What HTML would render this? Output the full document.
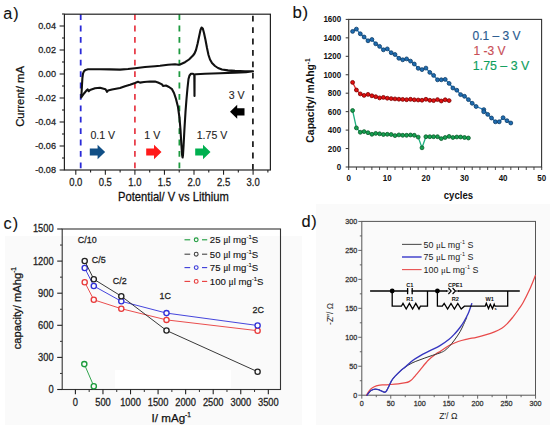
<!DOCTYPE html>
<html><head><meta charset="utf-8"><title>Figure</title>
<style>
html,body{margin:0;padding:0;background:#fff;}
body{width:550px;height:425px;overflow:hidden;}
svg{display:block;font-family:'Liberation Sans',sans-serif;}
svg text{font-family:'Liberation Sans',sans-serif;}
</style></head>
<body>
<svg width="550" height="425" viewBox="0 0 550 425">
<rect x="0" y="0" width="550" height="425" fill="#ffffff"/>
<rect x="5" y="236" width="297" height="189" fill="#fafafa"/>
<rect x="115" y="370" width="116" height="18" fill="#ffffff"/>
<rect x="316" y="204" width="234" height="221" fill="#fafafa"/>
<text transform="translate(3.3,19.0) scale(1,1.02)" font-size="16.2" text-anchor="start" fill="#111" stroke="#111" stroke-width="0.1" font-weight="normal" letter-spacing="1">a)</text>
<line x1="80.7" y1="14.2" x2="80.7" y2="170" stroke="#2a2ad8" stroke-width="1.8" stroke-dasharray="5.8 5.6" stroke-dashoffset="0"/>
<line x1="134.9" y1="14.2" x2="134.9" y2="170" stroke="#e8404c" stroke-width="1.8" stroke-dasharray="5.8 5.6" stroke-dashoffset="0"/>
<line x1="179.4" y1="14.2" x2="179.4" y2="170" stroke="#1e9a40" stroke-width="1.8" stroke-dasharray="5.8 5.6" stroke-dashoffset="0"/>
<line x1="252.9" y1="14.2" x2="252.9" y2="170" stroke="#222" stroke-width="1.8" stroke-dasharray="5.8 5.6" stroke-dashoffset="-70.0"/>
<rect x="64.4" y="14.2" width="205.99999999999997" height="155.8" fill="none" stroke="#222" stroke-width="1.2"/>
<line x1="59.60" y1="26.00" x2="64.40" y2="26.00" stroke="#222" stroke-width="1.1" />
<text transform="translate(56.0,29.3) scale(1,1.08)" font-size="9.1" text-anchor="end" fill="#222" stroke="#222" stroke-width="0.25" font-weight="normal" >0.04</text>
<line x1="59.60" y1="50.00" x2="64.40" y2="50.00" stroke="#222" stroke-width="1.1" />
<text transform="translate(56.0,53.3) scale(1,1.08)" font-size="9.1" text-anchor="end" fill="#222" stroke="#222" stroke-width="0.25" font-weight="normal" >0.02</text>
<line x1="59.60" y1="74.00" x2="64.40" y2="74.00" stroke="#222" stroke-width="1.1" />
<text transform="translate(56.0,77.3) scale(1,1.08)" font-size="9.1" text-anchor="end" fill="#222" stroke="#222" stroke-width="0.25" font-weight="normal" >0.00</text>
<line x1="59.60" y1="98.00" x2="64.40" y2="98.00" stroke="#222" stroke-width="1.1" />
<text transform="translate(56.0,101.3) scale(1,1.08)" font-size="9.1" text-anchor="end" fill="#222" stroke="#222" stroke-width="0.25" font-weight="normal" >-0.02</text>
<line x1="59.60" y1="122.00" x2="64.40" y2="122.00" stroke="#222" stroke-width="1.1" />
<text transform="translate(56.0,125.3) scale(1,1.08)" font-size="9.1" text-anchor="end" fill="#222" stroke="#222" stroke-width="0.25" font-weight="normal" >-0.04</text>
<line x1="59.60" y1="146.00" x2="64.40" y2="146.00" stroke="#222" stroke-width="1.1" />
<text transform="translate(56.0,149.3) scale(1,1.08)" font-size="9.1" text-anchor="end" fill="#222" stroke="#222" stroke-width="0.25" font-weight="normal" >-0.06</text>
<line x1="59.60" y1="170.00" x2="64.40" y2="170.00" stroke="#222" stroke-width="1.1" />
<text transform="translate(56.0,173.3) scale(1,1.08)" font-size="9.1" text-anchor="end" fill="#222" stroke="#222" stroke-width="0.25" font-weight="normal" >-0.08</text>
<line x1="62.00" y1="14.00" x2="64.40" y2="14.00" stroke="#222" stroke-width="1.1" />
<line x1="62.00" y1="38.00" x2="64.40" y2="38.00" stroke="#222" stroke-width="1.1" />
<line x1="62.00" y1="62.00" x2="64.40" y2="62.00" stroke="#222" stroke-width="1.1" />
<line x1="62.00" y1="86.00" x2="64.40" y2="86.00" stroke="#222" stroke-width="1.1" />
<line x1="62.00" y1="110.00" x2="64.40" y2="110.00" stroke="#222" stroke-width="1.1" />
<line x1="62.00" y1="134.00" x2="64.40" y2="134.00" stroke="#222" stroke-width="1.1" />
<line x1="62.00" y1="158.00" x2="64.40" y2="158.00" stroke="#222" stroke-width="1.1" />
<line x1="75.80" y1="170.00" x2="75.80" y2="174.70" stroke="#222" stroke-width="1.1" />
<text transform="translate(75.8,185.9) scale(1,1.08)" font-size="9.5" text-anchor="middle" fill="#222" stroke="#222" stroke-width="0.25" font-weight="normal" >0.0</text>
<line x1="105.35" y1="170.00" x2="105.35" y2="174.70" stroke="#222" stroke-width="1.1" />
<text transform="translate(105.3,185.9) scale(1,1.08)" font-size="9.5" text-anchor="middle" fill="#222" stroke="#222" stroke-width="0.25" font-weight="normal" >0.5</text>
<line x1="134.90" y1="170.00" x2="134.90" y2="174.70" stroke="#222" stroke-width="1.1" />
<text transform="translate(134.9,185.9) scale(1,1.08)" font-size="9.5" text-anchor="middle" fill="#222" stroke="#222" stroke-width="0.25" font-weight="normal" >1.0</text>
<line x1="164.45" y1="170.00" x2="164.45" y2="174.70" stroke="#222" stroke-width="1.1" />
<text transform="translate(164.4,185.9) scale(1,1.08)" font-size="9.5" text-anchor="middle" fill="#222" stroke="#222" stroke-width="0.25" font-weight="normal" >1.5</text>
<line x1="194.00" y1="170.00" x2="194.00" y2="174.70" stroke="#222" stroke-width="1.1" />
<text transform="translate(194.0,185.9) scale(1,1.08)" font-size="9.5" text-anchor="middle" fill="#222" stroke="#222" stroke-width="0.25" font-weight="normal" >2.0</text>
<line x1="223.55" y1="170.00" x2="223.55" y2="174.70" stroke="#222" stroke-width="1.1" />
<text transform="translate(223.6,185.9) scale(1,1.08)" font-size="9.5" text-anchor="middle" fill="#222" stroke="#222" stroke-width="0.25" font-weight="normal" >2.5</text>
<line x1="253.10" y1="170.00" x2="253.10" y2="174.70" stroke="#222" stroke-width="1.1" />
<text transform="translate(253.1,185.9) scale(1,1.08)" font-size="9.5" text-anchor="middle" fill="#222" stroke="#222" stroke-width="0.25" font-weight="normal" >3.0</text>
<line x1="90.58" y1="170.00" x2="90.58" y2="172.60" stroke="#222" stroke-width="1.1" />
<line x1="120.12" y1="170.00" x2="120.12" y2="172.60" stroke="#222" stroke-width="1.1" />
<line x1="149.68" y1="170.00" x2="149.68" y2="172.60" stroke="#222" stroke-width="1.1" />
<line x1="179.22" y1="170.00" x2="179.22" y2="172.60" stroke="#222" stroke-width="1.1" />
<line x1="208.77" y1="170.00" x2="208.77" y2="172.60" stroke="#222" stroke-width="1.1" />
<line x1="238.32" y1="170.00" x2="238.32" y2="172.60" stroke="#222" stroke-width="1.1" />
<line x1="267.88" y1="170.00" x2="267.88" y2="172.60" stroke="#222" stroke-width="1.1" />
<text transform="translate(173.4,200.8) scale(1,1.08)" font-size="11.2" text-anchor="middle" fill="#111" stroke="#111" stroke-width="0.25" font-weight="normal" >Potential/ V vs Lithium</text>
<text transform="translate(23.8,96.4) rotate(-90)" font-size="11.3" text-anchor="middle" fill="#111" stroke="#111" stroke-width="0.25">Current/ mA</text>
<polyline points="81.2,97.5 81.6,92.0 82.0,85.0 82.4,78.0 83.0,73.6 84.0,71.2 85.5,69.9 88.0,69.3 95.0,69.2 100.0,69.3 110.0,69.4 120.0,69.6 128.0,69.0 135.0,68.2 145.0,67.0 155.0,66.2 160.0,65.8 168.0,64.8 175.0,64.2 178.5,64.8 180.0,64.5 185.0,62.2 189.0,59.5 191.0,57.5 193.0,55.5 194.5,53.5 196.0,50.0 197.5,44.0 199.0,37.0 200.5,30.0 201.6,27.5 202.8,28.5 204.0,33.0 205.5,40.0 207.0,48.0 208.5,55.0 210.0,59.5 212.0,63.0 215.0,66.0 218.0,68.0 222.0,69.5 228.0,70.4 235.0,70.9 245.0,71.2 253.0,71.3 246.0,72.2 235.0,72.6 220.0,73.3 205.0,73.8 196.0,74.3 194.6,74.5 194.5,96.0 194.3,75.0 193.0,73.8 191.0,73.8 189.5,75.5 188.5,79.0 187.5,88.0 186.5,99.0 185.5,112.0 184.5,128.0 183.6,145.0 183.0,155.0 182.6,157.5 182.1,155.0 181.4,145.0 180.5,130.0 179.5,118.0 178.0,107.0 176.0,99.0 174.0,93.0 172.0,89.2 169.0,87.0 166.0,85.5 163.0,86.0 162.0,84.4 158.0,82.5 155.0,81.6 150.0,81.5 144.0,82.0 140.0,82.6 138.0,81.8 135.0,83.0 130.0,84.7 125.0,86.2 120.0,88.0 112.0,89.5 108.0,90.5 107.0,91.8 105.5,89.3 100.0,87.8 95.0,88.3 90.0,89.9 88.7,91.2 87.6,89.4 86.4,90.6 84.0,93.5 81.2,97.5" fill="none" stroke="#111" stroke-width="2.1" stroke-linejoin="round" stroke-linecap="round" />
<text transform="translate(90.4,138.5) scale(1,1.08)" font-size="10.6" text-anchor="start" fill="#222" stroke="#222" stroke-width="0.1" font-weight="normal" >0.1 V</text>
<text transform="translate(144.3,138.5) scale(1,1.08)" font-size="10.6" text-anchor="start" fill="#222" stroke="#222" stroke-width="0.1" font-weight="normal" >1 V</text>
<text transform="translate(196.7,138.5) scale(1,1.08)" font-size="10.6" text-anchor="start" fill="#222" stroke="#222" stroke-width="0.1" font-weight="normal" >1.75 V</text>
<text transform="translate(228.7,99.1) scale(1,1.08)" font-size="10.6" text-anchor="start" fill="#222" stroke="#222" stroke-width="0.1" font-weight="normal" >3 V</text>
<polygon points="89.8,148.4 97.6,148.4 97.6,144.8 105.1,152.0 97.6,159.2 97.6,155.6 89.8,155.6" fill="#114f86"/>
<polygon points="146.2,148.4 154.0,148.4 154.0,144.8 161.5,152.0 154.0,159.2 154.0,155.6 146.2,155.6" fill="#ff1a1a"/>
<polygon points="195.2,148.4 203.0,148.4 203.0,144.8 210.5,152.0 203.0,159.2 203.0,155.6 195.2,155.6" fill="#00b050"/>
<polygon points="230.0,111.8 237.2,104.8 237.2,108.2 244.5,108.2 244.5,115.4 237.2,115.4 237.2,118.8" fill="#000"/>
<text transform="translate(292.5,18.4) scale(1,1.02)" font-size="16.8" text-anchor="start" fill="#111" stroke="#111" stroke-width="0.1" font-weight="normal" letter-spacing="0.6">b)</text>
<rect x="348.7" y="19.4" width="192.9" height="147.6" fill="none" stroke="#333" stroke-width="1.1"/>
<line x1="345.70" y1="167.00" x2="348.70" y2="167.00" stroke="#333" stroke-width="1" />
<text transform="translate(341.2,169.9) scale(1,1.08)" font-size="8.0" text-anchor="end" fill="#111" stroke="#111" stroke-width="0.0" font-weight="bold" >0</text>
<line x1="345.70" y1="148.55" x2="348.70" y2="148.55" stroke="#333" stroke-width="1" />
<text transform="translate(341.2,151.5) scale(1,1.08)" font-size="8.0" text-anchor="end" fill="#111" stroke="#111" stroke-width="0.0" font-weight="bold" >200</text>
<line x1="345.70" y1="130.10" x2="348.70" y2="130.10" stroke="#333" stroke-width="1" />
<text transform="translate(341.2,133.0) scale(1,1.08)" font-size="8.0" text-anchor="end" fill="#111" stroke="#111" stroke-width="0.0" font-weight="bold" >400</text>
<line x1="345.70" y1="111.65" x2="348.70" y2="111.65" stroke="#333" stroke-width="1" />
<text transform="translate(341.2,114.6) scale(1,1.08)" font-size="8.0" text-anchor="end" fill="#111" stroke="#111" stroke-width="0.0" font-weight="bold" >600</text>
<line x1="345.70" y1="93.20" x2="348.70" y2="93.20" stroke="#333" stroke-width="1" />
<text transform="translate(341.2,96.1) scale(1,1.08)" font-size="8.0" text-anchor="end" fill="#111" stroke="#111" stroke-width="0.0" font-weight="bold" >800</text>
<line x1="345.70" y1="74.75" x2="348.70" y2="74.75" stroke="#333" stroke-width="1" />
<text transform="translate(341.2,77.7) scale(1,1.08)" font-size="8.0" text-anchor="end" fill="#111" stroke="#111" stroke-width="0.0" font-weight="bold" >1000</text>
<line x1="345.70" y1="56.30" x2="348.70" y2="56.30" stroke="#333" stroke-width="1" />
<text transform="translate(341.2,59.2) scale(1,1.08)" font-size="8.0" text-anchor="end" fill="#111" stroke="#111" stroke-width="0.0" font-weight="bold" >1200</text>
<line x1="345.70" y1="37.85" x2="348.70" y2="37.85" stroke="#333" stroke-width="1" />
<text transform="translate(341.2,40.7) scale(1,1.08)" font-size="8.0" text-anchor="end" fill="#111" stroke="#111" stroke-width="0.0" font-weight="bold" >1400</text>
<line x1="345.70" y1="19.40" x2="348.70" y2="19.40" stroke="#333" stroke-width="1" />
<text transform="translate(341.2,22.3) scale(1,1.08)" font-size="8.0" text-anchor="end" fill="#111" stroke="#111" stroke-width="0.0" font-weight="bold" >1600</text>
<line x1="348.70" y1="167.00" x2="348.70" y2="170.00" stroke="#333" stroke-width="0.9" />
<line x1="356.42" y1="167.00" x2="356.42" y2="170.00" stroke="#333" stroke-width="0.9" />
<line x1="364.14" y1="167.00" x2="364.14" y2="170.00" stroke="#333" stroke-width="0.9" />
<line x1="371.86" y1="167.00" x2="371.86" y2="170.00" stroke="#333" stroke-width="0.9" />
<line x1="379.58" y1="167.00" x2="379.58" y2="170.00" stroke="#333" stroke-width="0.9" />
<line x1="387.30" y1="167.00" x2="387.30" y2="170.00" stroke="#333" stroke-width="0.9" />
<line x1="395.02" y1="167.00" x2="395.02" y2="170.00" stroke="#333" stroke-width="0.9" />
<line x1="402.74" y1="167.00" x2="402.74" y2="170.00" stroke="#333" stroke-width="0.9" />
<line x1="410.46" y1="167.00" x2="410.46" y2="170.00" stroke="#333" stroke-width="0.9" />
<line x1="418.18" y1="167.00" x2="418.18" y2="170.00" stroke="#333" stroke-width="0.9" />
<line x1="425.90" y1="167.00" x2="425.90" y2="170.00" stroke="#333" stroke-width="0.9" />
<line x1="433.62" y1="167.00" x2="433.62" y2="170.00" stroke="#333" stroke-width="0.9" />
<line x1="441.34" y1="167.00" x2="441.34" y2="170.00" stroke="#333" stroke-width="0.9" />
<line x1="449.06" y1="167.00" x2="449.06" y2="170.00" stroke="#333" stroke-width="0.9" />
<line x1="456.78" y1="167.00" x2="456.78" y2="170.00" stroke="#333" stroke-width="0.9" />
<line x1="464.50" y1="167.00" x2="464.50" y2="170.00" stroke="#333" stroke-width="0.9" />
<line x1="472.22" y1="167.00" x2="472.22" y2="170.00" stroke="#333" stroke-width="0.9" />
<line x1="479.94" y1="167.00" x2="479.94" y2="170.00" stroke="#333" stroke-width="0.9" />
<line x1="487.66" y1="167.00" x2="487.66" y2="170.00" stroke="#333" stroke-width="0.9" />
<line x1="495.38" y1="167.00" x2="495.38" y2="170.00" stroke="#333" stroke-width="0.9" />
<line x1="503.10" y1="167.00" x2="503.10" y2="170.00" stroke="#333" stroke-width="0.9" />
<line x1="510.82" y1="167.00" x2="510.82" y2="170.00" stroke="#333" stroke-width="0.9" />
<line x1="518.54" y1="167.00" x2="518.54" y2="170.00" stroke="#333" stroke-width="0.9" />
<line x1="526.26" y1="167.00" x2="526.26" y2="170.00" stroke="#333" stroke-width="0.9" />
<line x1="533.98" y1="167.00" x2="533.98" y2="170.00" stroke="#333" stroke-width="0.9" />
<line x1="541.70" y1="167.00" x2="541.70" y2="170.00" stroke="#333" stroke-width="0.9" />
<text transform="translate(348.7,180.5) scale(1,1.08)" font-size="8.0" text-anchor="middle" fill="#111" stroke="#111" stroke-width="0.0" font-weight="bold" >0</text>
<text transform="translate(387.3,180.5) scale(1,1.08)" font-size="8.0" text-anchor="middle" fill="#111" stroke="#111" stroke-width="0.0" font-weight="bold" >10</text>
<text transform="translate(425.9,180.5) scale(1,1.08)" font-size="8.0" text-anchor="middle" fill="#111" stroke="#111" stroke-width="0.0" font-weight="bold" >20</text>
<text transform="translate(464.5,180.5) scale(1,1.08)" font-size="8.0" text-anchor="middle" fill="#111" stroke="#111" stroke-width="0.0" font-weight="bold" >30</text>
<text transform="translate(503.1,180.5) scale(1,1.08)" font-size="8.0" text-anchor="middle" fill="#111" stroke="#111" stroke-width="0.0" font-weight="bold" >40</text>
<text transform="translate(541.7,180.5) scale(1,1.08)" font-size="8.0" text-anchor="middle" fill="#111" stroke="#111" stroke-width="0.0" font-weight="bold" >50</text>
<text transform="translate(458.4,198.5) scale(1,1.08)" font-size="9.6" text-anchor="middle" fill="#111" stroke="#111" stroke-width="0.0" font-weight="bold" >cycles</text>
<text transform="translate(314.2,100.5) rotate(-90)" font-size="10.4" text-anchor="middle" fill="#111" font-weight="bold">Capacity/ mAhg<tspan dy="-4" font-size="6.5">-1</tspan></text>
<polyline points="352.6,31.4 356.4,29.1 360.3,33.8 364.1,37.0 368.0,40.8 371.9,39.5 375.7,43.8 379.6,46.4 383.4,49.8 387.3,48.9 391.2,52.7 395.0,54.5 398.9,58.3 402.7,59.8 406.6,58.9 410.5,61.1 414.3,64.0 418.2,68.3 422.0,69.6 425.9,68.1 429.8,72.4 433.6,75.4 437.5,79.8 441.3,79.8 445.2,79.4 449.1,83.4 452.9,88.0 456.8,90.2 460.6,94.6 464.5,96.3 468.4,99.6 472.2,103.3 476.1,106.5 483.8,109.6 487.7,114.4 491.5,118.0 495.4,121.8 499.2,121.8 503.1,117.7 507.0,120.7 510.8,123.0" fill="none" stroke="#2a7fc0" stroke-width="1.3" stroke-linejoin="round" stroke-linecap="round" />
<circle cx="352.6" cy="31.4" r="1.95" fill="#1f6cb0" stroke="#0d3b66" stroke-width="0.8"/>
<circle cx="356.4" cy="29.1" r="1.95" fill="#1f6cb0" stroke="#0d3b66" stroke-width="0.8"/>
<circle cx="360.3" cy="33.8" r="1.95" fill="#1f6cb0" stroke="#0d3b66" stroke-width="0.8"/>
<circle cx="364.1" cy="37.0" r="1.95" fill="#1f6cb0" stroke="#0d3b66" stroke-width="0.8"/>
<circle cx="368.0" cy="40.8" r="1.95" fill="#1f6cb0" stroke="#0d3b66" stroke-width="0.8"/>
<circle cx="371.9" cy="39.5" r="1.95" fill="#1f6cb0" stroke="#0d3b66" stroke-width="0.8"/>
<circle cx="375.7" cy="43.8" r="1.95" fill="#1f6cb0" stroke="#0d3b66" stroke-width="0.8"/>
<circle cx="379.6" cy="46.4" r="1.95" fill="#1f6cb0" stroke="#0d3b66" stroke-width="0.8"/>
<circle cx="383.4" cy="49.8" r="1.95" fill="#1f6cb0" stroke="#0d3b66" stroke-width="0.8"/>
<circle cx="387.3" cy="48.9" r="1.95" fill="#1f6cb0" stroke="#0d3b66" stroke-width="0.8"/>
<circle cx="391.2" cy="52.7" r="1.95" fill="#1f6cb0" stroke="#0d3b66" stroke-width="0.8"/>
<circle cx="395.0" cy="54.5" r="1.95" fill="#1f6cb0" stroke="#0d3b66" stroke-width="0.8"/>
<circle cx="398.9" cy="58.3" r="1.95" fill="#1f6cb0" stroke="#0d3b66" stroke-width="0.8"/>
<circle cx="402.7" cy="59.8" r="1.95" fill="#1f6cb0" stroke="#0d3b66" stroke-width="0.8"/>
<circle cx="406.6" cy="58.9" r="1.95" fill="#1f6cb0" stroke="#0d3b66" stroke-width="0.8"/>
<circle cx="410.5" cy="61.1" r="1.95" fill="#1f6cb0" stroke="#0d3b66" stroke-width="0.8"/>
<circle cx="414.3" cy="64.0" r="1.95" fill="#1f6cb0" stroke="#0d3b66" stroke-width="0.8"/>
<circle cx="418.2" cy="68.3" r="1.95" fill="#1f6cb0" stroke="#0d3b66" stroke-width="0.8"/>
<circle cx="422.0" cy="69.6" r="1.95" fill="#1f6cb0" stroke="#0d3b66" stroke-width="0.8"/>
<circle cx="425.9" cy="68.1" r="1.95" fill="#1f6cb0" stroke="#0d3b66" stroke-width="0.8"/>
<circle cx="429.8" cy="72.4" r="1.95" fill="#1f6cb0" stroke="#0d3b66" stroke-width="0.8"/>
<circle cx="433.6" cy="75.4" r="1.95" fill="#1f6cb0" stroke="#0d3b66" stroke-width="0.8"/>
<circle cx="437.5" cy="79.8" r="1.95" fill="#1f6cb0" stroke="#0d3b66" stroke-width="0.8"/>
<circle cx="441.3" cy="79.8" r="1.95" fill="#1f6cb0" stroke="#0d3b66" stroke-width="0.8"/>
<circle cx="445.2" cy="79.4" r="1.95" fill="#1f6cb0" stroke="#0d3b66" stroke-width="0.8"/>
<circle cx="449.1" cy="83.4" r="1.95" fill="#1f6cb0" stroke="#0d3b66" stroke-width="0.8"/>
<circle cx="452.9" cy="88.0" r="1.95" fill="#1f6cb0" stroke="#0d3b66" stroke-width="0.8"/>
<circle cx="456.8" cy="90.2" r="1.95" fill="#1f6cb0" stroke="#0d3b66" stroke-width="0.8"/>
<circle cx="460.6" cy="94.6" r="1.95" fill="#1f6cb0" stroke="#0d3b66" stroke-width="0.8"/>
<circle cx="464.5" cy="96.3" r="1.95" fill="#1f6cb0" stroke="#0d3b66" stroke-width="0.8"/>
<circle cx="468.4" cy="99.6" r="1.95" fill="#1f6cb0" stroke="#0d3b66" stroke-width="0.8"/>
<circle cx="472.2" cy="103.3" r="1.95" fill="#1f6cb0" stroke="#0d3b66" stroke-width="0.8"/>
<circle cx="476.1" cy="106.5" r="1.95" fill="#1f6cb0" stroke="#0d3b66" stroke-width="0.8"/>
<circle cx="483.8" cy="109.6" r="1.95" fill="#1f6cb0" stroke="#0d3b66" stroke-width="0.8"/>
<circle cx="487.7" cy="114.4" r="1.95" fill="#1f6cb0" stroke="#0d3b66" stroke-width="0.8"/>
<circle cx="491.5" cy="118.0" r="1.95" fill="#1f6cb0" stroke="#0d3b66" stroke-width="0.8"/>
<circle cx="495.4" cy="121.8" r="1.95" fill="#1f6cb0" stroke="#0d3b66" stroke-width="0.8"/>
<circle cx="499.2" cy="121.8" r="1.95" fill="#1f6cb0" stroke="#0d3b66" stroke-width="0.8"/>
<circle cx="503.1" cy="117.7" r="1.95" fill="#1f6cb0" stroke="#0d3b66" stroke-width="0.8"/>
<circle cx="507.0" cy="120.7" r="1.95" fill="#1f6cb0" stroke="#0d3b66" stroke-width="0.8"/>
<circle cx="510.8" cy="123.0" r="1.95" fill="#1f6cb0" stroke="#0d3b66" stroke-width="0.8"/>
<circle cx="483.8" cy="111.7" r="2.05" fill="#1f6cb0" stroke="#0d3b66" stroke-width="0.8"/>
<polyline points="352.6,82.4 356.4,90.0 360.3,93.9 364.1,95.4 368.0,94.4 371.9,95.8 375.7,96.7 379.6,97.9 383.4,97.4 387.3,98.2 391.2,98.6 395.0,98.9 398.9,99.2 402.7,99.4 406.6,99.7 410.5,99.3 414.3,99.8 418.2,100.0 422.0,100.2 425.9,99.3 429.8,100.3 433.6,100.6 437.5,99.6 441.3,101.0 445.2,99.8 449.1,100.6" fill="none" stroke="#e03030" stroke-width="1.3" stroke-linejoin="round" stroke-linecap="round" />
<circle cx="352.6" cy="82.4" r="1.95" fill="#e01010" stroke="#7a0000" stroke-width="0.8"/>
<circle cx="356.4" cy="90.0" r="1.95" fill="#e01010" stroke="#7a0000" stroke-width="0.8"/>
<circle cx="360.3" cy="93.9" r="1.95" fill="#e01010" stroke="#7a0000" stroke-width="0.8"/>
<circle cx="364.1" cy="95.4" r="1.95" fill="#e01010" stroke="#7a0000" stroke-width="0.8"/>
<circle cx="368.0" cy="94.4" r="1.95" fill="#e01010" stroke="#7a0000" stroke-width="0.8"/>
<circle cx="371.9" cy="95.8" r="1.95" fill="#e01010" stroke="#7a0000" stroke-width="0.8"/>
<circle cx="375.7" cy="96.7" r="1.95" fill="#e01010" stroke="#7a0000" stroke-width="0.8"/>
<circle cx="379.6" cy="97.9" r="1.95" fill="#e01010" stroke="#7a0000" stroke-width="0.8"/>
<circle cx="383.4" cy="97.4" r="1.95" fill="#e01010" stroke="#7a0000" stroke-width="0.8"/>
<circle cx="387.3" cy="98.2" r="1.95" fill="#e01010" stroke="#7a0000" stroke-width="0.8"/>
<circle cx="391.2" cy="98.6" r="1.95" fill="#e01010" stroke="#7a0000" stroke-width="0.8"/>
<circle cx="395.0" cy="98.9" r="1.95" fill="#e01010" stroke="#7a0000" stroke-width="0.8"/>
<circle cx="398.9" cy="99.2" r="1.95" fill="#e01010" stroke="#7a0000" stroke-width="0.8"/>
<circle cx="402.7" cy="99.4" r="1.95" fill="#e01010" stroke="#7a0000" stroke-width="0.8"/>
<circle cx="406.6" cy="99.7" r="1.95" fill="#e01010" stroke="#7a0000" stroke-width="0.8"/>
<circle cx="410.5" cy="99.3" r="1.95" fill="#e01010" stroke="#7a0000" stroke-width="0.8"/>
<circle cx="414.3" cy="99.8" r="1.95" fill="#e01010" stroke="#7a0000" stroke-width="0.8"/>
<circle cx="418.2" cy="100.0" r="1.95" fill="#e01010" stroke="#7a0000" stroke-width="0.8"/>
<circle cx="422.0" cy="100.2" r="1.95" fill="#e01010" stroke="#7a0000" stroke-width="0.8"/>
<circle cx="425.9" cy="99.3" r="1.95" fill="#e01010" stroke="#7a0000" stroke-width="0.8"/>
<circle cx="429.8" cy="100.3" r="1.95" fill="#e01010" stroke="#7a0000" stroke-width="0.8"/>
<circle cx="433.6" cy="100.6" r="1.95" fill="#e01010" stroke="#7a0000" stroke-width="0.8"/>
<circle cx="437.5" cy="99.6" r="1.95" fill="#e01010" stroke="#7a0000" stroke-width="0.8"/>
<circle cx="441.3" cy="101.0" r="1.95" fill="#e01010" stroke="#7a0000" stroke-width="0.8"/>
<circle cx="445.2" cy="99.8" r="1.95" fill="#e01010" stroke="#7a0000" stroke-width="0.8"/>
<circle cx="449.1" cy="100.6" r="1.95" fill="#e01010" stroke="#7a0000" stroke-width="0.8"/>
<polyline points="352.6,110.5 356.4,127.9 360.3,132.3 364.1,131.6 368.0,132.7 371.9,134.3 375.7,133.4 379.6,133.8 383.4,134.5 387.3,134.3 391.2,134.5 395.0,135.6 398.9,134.9 402.7,135.3 406.6,135.3 410.5,135.0 414.3,135.3 418.2,137.1 422.0,147.8 425.9,136.7 429.8,136.7 433.6,136.7 437.5,136.7 441.3,138.6 445.2,137.5 449.1,136.4 452.9,137.5 456.8,137.0 460.6,137.0 464.5,137.5 468.4,138.0" fill="none" stroke="#20b080" stroke-width="1.3" stroke-linejoin="round" stroke-linecap="round" />
<circle cx="352.6" cy="110.5" r="1.95" fill="#15a050" stroke="#0a5a2a" stroke-width="0.8"/>
<circle cx="356.4" cy="127.9" r="1.95" fill="#15a050" stroke="#0a5a2a" stroke-width="0.8"/>
<circle cx="360.3" cy="132.3" r="1.95" fill="#15a050" stroke="#0a5a2a" stroke-width="0.8"/>
<circle cx="364.1" cy="131.6" r="1.95" fill="#15a050" stroke="#0a5a2a" stroke-width="0.8"/>
<circle cx="368.0" cy="132.7" r="1.95" fill="#15a050" stroke="#0a5a2a" stroke-width="0.8"/>
<circle cx="371.9" cy="134.3" r="1.95" fill="#15a050" stroke="#0a5a2a" stroke-width="0.8"/>
<circle cx="375.7" cy="133.4" r="1.95" fill="#15a050" stroke="#0a5a2a" stroke-width="0.8"/>
<circle cx="379.6" cy="133.8" r="1.95" fill="#15a050" stroke="#0a5a2a" stroke-width="0.8"/>
<circle cx="383.4" cy="134.5" r="1.95" fill="#15a050" stroke="#0a5a2a" stroke-width="0.8"/>
<circle cx="387.3" cy="134.3" r="1.95" fill="#15a050" stroke="#0a5a2a" stroke-width="0.8"/>
<circle cx="391.2" cy="134.5" r="1.95" fill="#15a050" stroke="#0a5a2a" stroke-width="0.8"/>
<circle cx="395.0" cy="135.6" r="1.95" fill="#15a050" stroke="#0a5a2a" stroke-width="0.8"/>
<circle cx="398.9" cy="134.9" r="1.95" fill="#15a050" stroke="#0a5a2a" stroke-width="0.8"/>
<circle cx="402.7" cy="135.3" r="1.95" fill="#15a050" stroke="#0a5a2a" stroke-width="0.8"/>
<circle cx="406.6" cy="135.3" r="1.95" fill="#15a050" stroke="#0a5a2a" stroke-width="0.8"/>
<circle cx="410.5" cy="135.0" r="1.95" fill="#15a050" stroke="#0a5a2a" stroke-width="0.8"/>
<circle cx="414.3" cy="135.3" r="1.95" fill="#15a050" stroke="#0a5a2a" stroke-width="0.8"/>
<circle cx="418.2" cy="137.1" r="1.95" fill="#15a050" stroke="#0a5a2a" stroke-width="0.8"/>
<circle cx="422.0" cy="147.8" r="1.95" fill="#15a050" stroke="#0a5a2a" stroke-width="0.8"/>
<circle cx="425.9" cy="136.7" r="1.95" fill="#15a050" stroke="#0a5a2a" stroke-width="0.8"/>
<circle cx="429.8" cy="136.7" r="1.95" fill="#15a050" stroke="#0a5a2a" stroke-width="0.8"/>
<circle cx="433.6" cy="136.7" r="1.95" fill="#15a050" stroke="#0a5a2a" stroke-width="0.8"/>
<circle cx="437.5" cy="136.7" r="1.95" fill="#15a050" stroke="#0a5a2a" stroke-width="0.8"/>
<circle cx="441.3" cy="138.6" r="1.95" fill="#15a050" stroke="#0a5a2a" stroke-width="0.8"/>
<circle cx="445.2" cy="137.5" r="1.95" fill="#15a050" stroke="#0a5a2a" stroke-width="0.8"/>
<circle cx="449.1" cy="136.4" r="1.95" fill="#15a050" stroke="#0a5a2a" stroke-width="0.8"/>
<circle cx="452.9" cy="137.5" r="1.95" fill="#15a050" stroke="#0a5a2a" stroke-width="0.8"/>
<circle cx="456.8" cy="137.0" r="1.95" fill="#15a050" stroke="#0a5a2a" stroke-width="0.8"/>
<circle cx="460.6" cy="137.0" r="1.95" fill="#15a050" stroke="#0a5a2a" stroke-width="0.8"/>
<circle cx="464.5" cy="137.5" r="1.95" fill="#15a050" stroke="#0a5a2a" stroke-width="0.8"/>
<circle cx="468.4" cy="138.0" r="1.95" fill="#15a050" stroke="#0a5a2a" stroke-width="0.8"/>
<text transform="translate(472.6,39.8) scale(1,1.08)" font-size="12" text-anchor="start" fill="#2a5b90" stroke="#2a5b90" stroke-width="0.15" font-weight="normal" >0.1 – 3 V</text>
<text transform="translate(473.6,55.1) scale(1,1.08)" font-size="12" text-anchor="start" fill="#c84e56" stroke="#c84e56" stroke-width="0.15" font-weight="normal" >1 -3 V</text>
<text transform="translate(472.8,70.4) scale(1,1.08)" font-size="12.4" text-anchor="start" fill="#0e9e5c" stroke="#0e9e5c" stroke-width="0.15" font-weight="normal" >1.75 – 3 V</text>
<text transform="translate(3.6,229.2) scale(1,1.02)" font-size="16.2" text-anchor="start" fill="#111" stroke="#111" stroke-width="0.1" font-weight="normal" letter-spacing="1">c)</text>
<rect x="62.2" y="229.0" width="218.3" height="160.5" fill="none" stroke="#333" stroke-width="1.1"/>
<line x1="57.20" y1="389.50" x2="62.20" y2="389.50" stroke="#222" stroke-width="1.1" />
<text transform="translate(53.6,392.9) scale(1,1.08)" font-size="9.3" text-anchor="end" fill="#222" stroke="#222" stroke-width="0.25" font-weight="normal" >0</text>
<line x1="57.20" y1="357.40" x2="62.20" y2="357.40" stroke="#222" stroke-width="1.1" />
<text transform="translate(53.6,360.8) scale(1,1.08)" font-size="9.3" text-anchor="end" fill="#222" stroke="#222" stroke-width="0.25" font-weight="normal" >300</text>
<line x1="57.20" y1="325.30" x2="62.20" y2="325.30" stroke="#222" stroke-width="1.1" />
<text transform="translate(53.6,328.7) scale(1,1.08)" font-size="9.3" text-anchor="end" fill="#222" stroke="#222" stroke-width="0.25" font-weight="normal" >600</text>
<line x1="57.20" y1="293.20" x2="62.20" y2="293.20" stroke="#222" stroke-width="1.1" />
<text transform="translate(53.6,296.6) scale(1,1.08)" font-size="9.3" text-anchor="end" fill="#222" stroke="#222" stroke-width="0.25" font-weight="normal" >900</text>
<line x1="57.20" y1="261.10" x2="62.20" y2="261.10" stroke="#222" stroke-width="1.1" />
<text transform="translate(53.6,264.5) scale(1,1.08)" font-size="9.3" text-anchor="end" fill="#222" stroke="#222" stroke-width="0.25" font-weight="normal" >1200</text>
<line x1="57.20" y1="229.00" x2="62.20" y2="229.00" stroke="#222" stroke-width="1.1" />
<text transform="translate(53.6,232.4) scale(1,1.08)" font-size="9.3" text-anchor="end" fill="#222" stroke="#222" stroke-width="0.25" font-weight="normal" >1500</text>
<line x1="60.00" y1="373.45" x2="62.20" y2="373.45" stroke="#333" stroke-width="1" />
<line x1="60.00" y1="341.35" x2="62.20" y2="341.35" stroke="#333" stroke-width="1" />
<line x1="60.00" y1="309.25" x2="62.20" y2="309.25" stroke="#333" stroke-width="1" />
<line x1="60.00" y1="277.15" x2="62.20" y2="277.15" stroke="#333" stroke-width="1" />
<line x1="60.00" y1="245.05" x2="62.20" y2="245.05" stroke="#333" stroke-width="1" />
<line x1="75.40" y1="389.50" x2="75.40" y2="394.30" stroke="#222" stroke-width="1.1" />
<text transform="translate(75.4,405.6) scale(1,1.08)" font-size="9.3" text-anchor="middle" fill="#222" stroke="#222" stroke-width="0.25" font-weight="normal" >0</text>
<line x1="102.96" y1="389.50" x2="102.96" y2="394.30" stroke="#222" stroke-width="1.1" />
<text transform="translate(103.0,405.6) scale(1,1.08)" font-size="9.3" text-anchor="middle" fill="#222" stroke="#222" stroke-width="0.25" font-weight="normal" >500</text>
<line x1="130.52" y1="389.50" x2="130.52" y2="394.30" stroke="#222" stroke-width="1.1" />
<text transform="translate(130.5,405.6) scale(1,1.08)" font-size="9.3" text-anchor="middle" fill="#222" stroke="#222" stroke-width="0.25" font-weight="normal" >1000</text>
<line x1="158.08" y1="389.50" x2="158.08" y2="394.30" stroke="#222" stroke-width="1.1" />
<text transform="translate(158.1,405.6) scale(1,1.08)" font-size="9.3" text-anchor="middle" fill="#222" stroke="#222" stroke-width="0.25" font-weight="normal" >1500</text>
<line x1="185.64" y1="389.50" x2="185.64" y2="394.30" stroke="#222" stroke-width="1.1" />
<text transform="translate(185.6,405.6) scale(1,1.08)" font-size="9.3" text-anchor="middle" fill="#222" stroke="#222" stroke-width="0.25" font-weight="normal" >2000</text>
<line x1="213.20" y1="389.50" x2="213.20" y2="394.30" stroke="#222" stroke-width="1.1" />
<text transform="translate(213.2,405.6) scale(1,1.08)" font-size="9.3" text-anchor="middle" fill="#222" stroke="#222" stroke-width="0.25" font-weight="normal" >2500</text>
<line x1="240.76" y1="389.50" x2="240.76" y2="394.30" stroke="#222" stroke-width="1.1" />
<text transform="translate(240.8,405.6) scale(1,1.08)" font-size="9.3" text-anchor="middle" fill="#222" stroke="#222" stroke-width="0.25" font-weight="normal" >3000</text>
<line x1="268.32" y1="389.50" x2="268.32" y2="394.30" stroke="#222" stroke-width="1.1" />
<text transform="translate(268.3,405.6) scale(1,1.08)" font-size="9.3" text-anchor="middle" fill="#222" stroke="#222" stroke-width="0.25" font-weight="normal" >3500</text>
<line x1="89.18" y1="389.50" x2="89.18" y2="392.00" stroke="#333" stroke-width="1" />
<line x1="116.74" y1="389.50" x2="116.74" y2="392.00" stroke="#333" stroke-width="1" />
<line x1="144.30" y1="389.50" x2="144.30" y2="392.00" stroke="#333" stroke-width="1" />
<line x1="171.86" y1="389.50" x2="171.86" y2="392.00" stroke="#333" stroke-width="1" />
<line x1="199.42" y1="389.50" x2="199.42" y2="392.00" stroke="#333" stroke-width="1" />
<line x1="226.98" y1="389.50" x2="226.98" y2="392.00" stroke="#333" stroke-width="1" />
<line x1="254.54" y1="389.50" x2="254.54" y2="392.00" stroke="#333" stroke-width="1" />
<text x="151.6" y="421.9" font-size="11.6" fill="#111" stroke="#111" stroke-width="0.25">I/ mAg<tspan dy="-5" font-size="6.5">-1</tspan></text>
<text transform="translate(20.8,308.2) rotate(-90)" font-size="11.2" text-anchor="middle" fill="#111" stroke="#111" stroke-width="0.25">capacity/ mAhg<tspan dy="-5" font-size="6.5">-1</tspan></text>
<polyline points="84.7,282.2 93.8,299.8 121.3,308.7 166.5,319.9 257.6,330.7" fill="none" stroke="#e83a3a" stroke-width="0.9" stroke-linejoin="round" stroke-linecap="round" />
<circle cx="84.7" cy="282.2" r="2.6" fill="#fbfbfb" stroke="#e83a3a" stroke-width="1.35"/>
<circle cx="93.8" cy="299.8" r="2.6" fill="#fbfbfb" stroke="#e83a3a" stroke-width="1.35"/>
<circle cx="121.3" cy="308.7" r="2.6" fill="#fbfbfb" stroke="#e83a3a" stroke-width="1.35"/>
<circle cx="166.5" cy="319.9" r="2.6" fill="#fbfbfb" stroke="#e83a3a" stroke-width="1.35"/>
<circle cx="257.6" cy="330.7" r="2.6" fill="#fbfbfb" stroke="#e83a3a" stroke-width="1.35"/>
<polyline points="84.7,268.0 93.8,286.0 121.3,301.3 166.5,313.1 257.6,325.5" fill="none" stroke="#3030d8" stroke-width="0.9" stroke-linejoin="round" stroke-linecap="round" />
<circle cx="84.7" cy="268.0" r="2.6" fill="#fbfbfb" stroke="#3030d8" stroke-width="1.35"/>
<circle cx="93.8" cy="286.0" r="2.6" fill="#fbfbfb" stroke="#3030d8" stroke-width="1.35"/>
<circle cx="121.3" cy="301.3" r="2.6" fill="#fbfbfb" stroke="#3030d8" stroke-width="1.35"/>
<circle cx="166.5" cy="313.1" r="2.6" fill="#fbfbfb" stroke="#3030d8" stroke-width="1.35"/>
<circle cx="257.6" cy="325.5" r="2.6" fill="#fbfbfb" stroke="#3030d8" stroke-width="1.35"/>
<polyline points="84.7,261.0 93.8,279.2 121.3,296.2 166.5,330.5 257.6,371.7" fill="none" stroke="#222" stroke-width="0.9" stroke-linejoin="round" stroke-linecap="round" />
<circle cx="84.7" cy="261.0" r="2.6" fill="#fbfbfb" stroke="#222" stroke-width="1.35"/>
<circle cx="93.8" cy="279.2" r="2.6" fill="#fbfbfb" stroke="#222" stroke-width="1.35"/>
<circle cx="121.3" cy="296.2" r="2.6" fill="#fbfbfb" stroke="#222" stroke-width="1.35"/>
<circle cx="166.5" cy="330.5" r="2.6" fill="#fbfbfb" stroke="#222" stroke-width="1.35"/>
<circle cx="257.6" cy="371.7" r="2.6" fill="#fbfbfb" stroke="#222" stroke-width="1.35"/>
<polyline points="84.3,364.1 93.8,386.2" fill="none" stroke="#1a9a3a" stroke-width="0.9" stroke-linejoin="round" stroke-linecap="round" />
<circle cx="84.3" cy="364.1" r="2.6" fill="#fbfbfb" stroke="#1a9a3a" stroke-width="1.35"/>
<circle cx="93.8" cy="386.2" r="2.6" fill="#fbfbfb" stroke="#1a9a3a" stroke-width="1.35"/>
<text transform="translate(77.8,243.3) scale(1,1.08)" font-size="8.9" text-anchor="start" fill="#222" stroke="#222" stroke-width="0.25" font-weight="normal" >C/10</text>
<text transform="translate(91.8,263.3) scale(1,1.08)" font-size="8.9" text-anchor="start" fill="#222" stroke="#222" stroke-width="0.25" font-weight="normal" >C/5</text>
<text transform="translate(112.8,283.8) scale(1,1.08)" font-size="8.9" text-anchor="start" fill="#222" stroke="#222" stroke-width="0.25" font-weight="normal" >C/2</text>
<text transform="translate(159.6,298.6) scale(1,1.08)" font-size="8.9" text-anchor="start" fill="#222" stroke="#222" stroke-width="0.25" font-weight="normal" >1C</text>
<text transform="translate(252.6,312.6) scale(1,1.08)" font-size="8.9" text-anchor="start" fill="#222" stroke="#222" stroke-width="0.25" font-weight="normal" >2C</text>
<line x1="184.50" y1="239.80" x2="190.20" y2="239.80" stroke="#1a9a3a" stroke-width="1.1" />
<line x1="202.00" y1="239.80" x2="207.20" y2="239.80" stroke="#1a9a3a" stroke-width="1.1" />
<circle cx="196.2" cy="239.8" r="1.9" fill="none" stroke="#1a9a3a" stroke-width="1.1"/>
<text x="209.8" y="243.3" font-size="9.6" fill="#111" stroke="#111" stroke-width="0.12">25 <tspan font-family="Liberation Serif">μ</tspan>l mg<tspan dy="-4" font-size="6">-1</tspan><tspan dy="4">S</tspan></text>
<line x1="184.50" y1="254.20" x2="190.20" y2="254.20" stroke="#444" stroke-width="1.1" />
<line x1="202.00" y1="254.20" x2="207.20" y2="254.20" stroke="#444" stroke-width="1.1" />
<circle cx="196.2" cy="254.2" r="1.9" fill="none" stroke="#444" stroke-width="1.1"/>
<text x="209.8" y="257.7" font-size="9.6" fill="#111" stroke="#111" stroke-width="0.12">50 <tspan font-family="Liberation Serif">μ</tspan>l mg<tspan dy="-4" font-size="6">-1</tspan><tspan dy="4">S</tspan></text>
<line x1="184.50" y1="267.60" x2="190.20" y2="267.60" stroke="#3a3ad8" stroke-width="1.1" />
<line x1="202.00" y1="267.60" x2="207.20" y2="267.60" stroke="#3a3ad8" stroke-width="1.1" />
<circle cx="196.2" cy="267.6" r="1.9" fill="none" stroke="#3a3ad8" stroke-width="1.1"/>
<text x="209.8" y="271.1" font-size="9.6" fill="#111" stroke="#111" stroke-width="0.12">75 <tspan font-family="Liberation Serif">μ</tspan>l mg<tspan dy="-4" font-size="6">-1</tspan><tspan dy="4">S</tspan></text>
<line x1="184.50" y1="281.40" x2="190.20" y2="281.40" stroke="#e83a3a" stroke-width="1.1" />
<line x1="202.00" y1="281.40" x2="207.20" y2="281.40" stroke="#e83a3a" stroke-width="1.1" />
<circle cx="196.2" cy="281.4" r="1.9" fill="none" stroke="#e83a3a" stroke-width="1.1"/>
<text x="209.8" y="284.9" font-size="9.6" fill="#111" stroke="#111" stroke-width="0.12">100 <tspan font-family="Liberation Serif">μ</tspan>l mg<tspan dy="-4" font-size="6">-1</tspan><tspan dy="4">S</tspan></text>
<text transform="translate(301.5,227.4) scale(1,1.02)" font-size="16.4" text-anchor="start" fill="#111" stroke="#111" stroke-width="0.1" font-weight="normal" letter-spacing="0.6">d)</text>
<rect x="361.8" y="221.4" width="173.7" height="173.8" fill="none" stroke="#555" stroke-width="1"/>
<line x1="358.30" y1="395.20" x2="361.80" y2="395.20" stroke="#555" stroke-width="0.9" />
<text transform="translate(357.3,397.8) scale(1,1.08)" font-size="7.2" text-anchor="end" fill="#333" stroke="#333" stroke-width="0.25" font-weight="normal" >0</text>
<line x1="361.80" y1="395.20" x2="361.80" y2="398.70" stroke="#555" stroke-width="0.9" />
<text transform="translate(361.8,405.8) scale(1,1.08)" font-size="7.2" text-anchor="middle" fill="#333" stroke="#333" stroke-width="0.25" font-weight="normal" >0</text>
<line x1="358.30" y1="366.24" x2="361.80" y2="366.24" stroke="#555" stroke-width="0.9" />
<text transform="translate(357.3,368.8) scale(1,1.08)" font-size="7.2" text-anchor="end" fill="#333" stroke="#333" stroke-width="0.25" font-weight="normal" >50</text>
<line x1="390.76" y1="395.20" x2="390.76" y2="398.70" stroke="#555" stroke-width="0.9" />
<text transform="translate(390.8,405.8) scale(1,1.08)" font-size="7.2" text-anchor="middle" fill="#333" stroke="#333" stroke-width="0.25" font-weight="normal" >50</text>
<line x1="358.30" y1="337.28" x2="361.80" y2="337.28" stroke="#555" stroke-width="0.9" />
<text transform="translate(357.3,339.9) scale(1,1.08)" font-size="7.2" text-anchor="end" fill="#333" stroke="#333" stroke-width="0.25" font-weight="normal" >100</text>
<line x1="419.72" y1="395.20" x2="419.72" y2="398.70" stroke="#555" stroke-width="0.9" />
<text transform="translate(419.7,405.8) scale(1,1.08)" font-size="7.2" text-anchor="middle" fill="#333" stroke="#333" stroke-width="0.25" font-weight="normal" >100</text>
<line x1="358.30" y1="308.32" x2="361.80" y2="308.32" stroke="#555" stroke-width="0.9" />
<text transform="translate(357.3,310.9) scale(1,1.08)" font-size="7.2" text-anchor="end" fill="#333" stroke="#333" stroke-width="0.25" font-weight="normal" >150</text>
<line x1="448.68" y1="395.20" x2="448.68" y2="398.70" stroke="#555" stroke-width="0.9" />
<text transform="translate(448.7,405.8) scale(1,1.08)" font-size="7.2" text-anchor="middle" fill="#333" stroke="#333" stroke-width="0.25" font-weight="normal" >150</text>
<line x1="358.30" y1="279.36" x2="361.80" y2="279.36" stroke="#555" stroke-width="0.9" />
<text transform="translate(357.3,282.0) scale(1,1.08)" font-size="7.2" text-anchor="end" fill="#333" stroke="#333" stroke-width="0.25" font-weight="normal" >200</text>
<line x1="477.64" y1="395.20" x2="477.64" y2="398.70" stroke="#555" stroke-width="0.9" />
<text transform="translate(477.6,405.8) scale(1,1.08)" font-size="7.2" text-anchor="middle" fill="#333" stroke="#333" stroke-width="0.25" font-weight="normal" >200</text>
<line x1="358.30" y1="250.40" x2="361.80" y2="250.40" stroke="#555" stroke-width="0.9" />
<text transform="translate(357.3,253.0) scale(1,1.08)" font-size="7.2" text-anchor="end" fill="#333" stroke="#333" stroke-width="0.25" font-weight="normal" >250</text>
<line x1="506.60" y1="395.20" x2="506.60" y2="398.70" stroke="#555" stroke-width="0.9" />
<text transform="translate(506.6,405.8) scale(1,1.08)" font-size="7.2" text-anchor="middle" fill="#333" stroke="#333" stroke-width="0.25" font-weight="normal" >250</text>
<line x1="358.30" y1="221.44" x2="361.80" y2="221.44" stroke="#555" stroke-width="0.9" />
<text transform="translate(357.3,224.0) scale(1,1.08)" font-size="7.2" text-anchor="end" fill="#333" stroke="#333" stroke-width="0.25" font-weight="normal" >300</text>
<line x1="535.56" y1="395.20" x2="535.56" y2="398.70" stroke="#555" stroke-width="0.9" />
<text transform="translate(535.6,405.8) scale(1,1.08)" font-size="7.2" text-anchor="middle" fill="#333" stroke="#333" stroke-width="0.25" font-weight="normal" >300</text>
<line x1="359.80" y1="380.72" x2="361.80" y2="380.72" stroke="#555" stroke-width="0.9" />
<line x1="376.28" y1="395.20" x2="376.28" y2="397.20" stroke="#555" stroke-width="0.9" />
<line x1="359.80" y1="351.76" x2="361.80" y2="351.76" stroke="#555" stroke-width="0.9" />
<line x1="405.24" y1="395.20" x2="405.24" y2="397.20" stroke="#555" stroke-width="0.9" />
<line x1="359.80" y1="322.80" x2="361.80" y2="322.80" stroke="#555" stroke-width="0.9" />
<line x1="434.20" y1="395.20" x2="434.20" y2="397.20" stroke="#555" stroke-width="0.9" />
<line x1="359.80" y1="293.84" x2="361.80" y2="293.84" stroke="#555" stroke-width="0.9" />
<line x1="463.16" y1="395.20" x2="463.16" y2="397.20" stroke="#555" stroke-width="0.9" />
<line x1="359.80" y1="264.88" x2="361.80" y2="264.88" stroke="#555" stroke-width="0.9" />
<line x1="492.12" y1="395.20" x2="492.12" y2="397.20" stroke="#555" stroke-width="0.9" />
<line x1="359.80" y1="235.92" x2="361.80" y2="235.92" stroke="#555" stroke-width="0.9" />
<line x1="521.08" y1="395.20" x2="521.08" y2="397.20" stroke="#555" stroke-width="0.9" />
<text x="439.2" y="419.3" font-size="8.7" fill="#222">Z′/ Ω</text>
<text transform="translate(332.6,314) rotate(-90)" font-size="8.4" text-anchor="middle" fill="#222">-Z″/ Ω</text>
<line x1="402.00" y1="244.40" x2="421.60" y2="244.40" stroke="#555" stroke-width="1.1" />
<text x="423.6" y="247.70000000000002" font-size="8.9" fill="#222">50 <tspan font-family="Liberation Serif">μ</tspan>L mg<tspan dy="-4" font-size="5.5">-1</tspan><tspan dy="4"> S</tspan></text>
<line x1="402.00" y1="257.00" x2="421.60" y2="257.00" stroke="#5050d0" stroke-width="1.6" />
<text x="423.6" y="260.3" font-size="8.9" fill="#222">75 <tspan font-family="Liberation Serif">μ</tspan>L mg<tspan dy="-4" font-size="5.5">-1</tspan><tspan dy="4"> S</tspan></text>
<line x1="402.00" y1="269.60" x2="421.60" y2="269.60" stroke="#e85050" stroke-width="1.1" />
<text x="423.6" y="272.90000000000003" font-size="8.9" fill="#222">100 <tspan font-family="Liberation Serif">μ</tspan>L mg<tspan dy="-4" font-size="5.5">-1</tspan><tspan dy="4"> S</tspan></text>
<path d="M366.50,395.20 C366.87,394.60 367.97,392.65 368.70,391.60 C369.43,390.55 369.98,389.72 370.90,388.90 C371.82,388.08 372.93,387.30 374.20,386.70 C375.47,386.10 376.87,385.60 378.50,385.30 C380.13,385.00 382.00,385.03 384.00,384.90 C386.00,384.77 388.13,384.68 390.50,384.50 C392.87,384.32 395.65,384.10 398.20,383.80 C400.75,383.50 403.98,383.07 405.80,382.70 C407.62,382.33 408.00,382.20 409.10,381.60 C410.20,381.00 411.32,380.15 412.40,379.10 C413.48,378.05 414.33,376.78 415.60,375.30 C416.87,373.82 417.90,372.70 420.00,370.20 C422.10,367.70 425.45,363.10 428.20,360.30 C430.95,357.50 434.53,354.85 436.50,353.40 C438.47,351.95 437.90,352.92 440.00,351.60 C442.10,350.28 446.07,347.18 449.10,345.50 C452.13,343.82 455.17,342.57 458.20,341.50 C461.23,340.43 464.27,339.80 467.30,339.10 C470.33,338.40 473.37,338.00 476.40,337.30 C479.43,336.60 482.48,335.82 485.50,334.90 C488.52,333.98 491.78,332.92 494.50,331.80 C497.22,330.68 499.67,329.57 501.80,328.20 C503.93,326.83 505.48,325.42 507.30,323.60 C509.12,321.78 510.88,319.57 512.70,317.30 C514.52,315.03 516.48,312.42 518.20,310.00 C519.92,307.58 521.10,306.20 523.00,302.80 C524.90,299.40 527.53,294.13 529.60,289.60 C531.67,285.07 534.43,277.93 535.40,275.60" fill="none" stroke="#e84a4a" stroke-width="1.25" stroke-linecap="round" />
<path d="M367.00,395.20 C367.47,394.60 368.97,392.47 369.80,391.60 C370.63,390.73 371.08,390.40 372.00,390.00 C372.92,389.60 374.22,389.25 375.30,389.20 C376.38,389.15 377.42,389.38 378.50,389.70 C379.58,390.02 380.73,390.68 381.80,391.10 C382.87,391.52 384.08,392.30 384.90,392.20 C385.72,392.10 386.03,391.50 386.70,390.50 C387.37,389.50 388.08,387.83 388.90,386.20 C389.72,384.57 390.60,382.33 391.60,380.70 C392.60,379.07 393.43,378.03 394.90,376.40 C396.37,374.77 398.58,372.50 400.40,370.90 C402.22,369.30 403.87,368.12 405.80,366.80 C407.73,365.48 409.63,364.17 412.00,363.00 C414.37,361.83 417.00,360.93 420.00,359.80 C423.00,358.67 426.67,357.35 430.00,356.20 C433.33,355.05 437.55,353.83 440.00,352.90 C442.45,351.97 443.18,351.65 444.70,350.60 C446.22,349.55 447.47,348.37 449.10,346.60 C450.73,344.83 452.68,342.47 454.50,340.00 C456.32,337.53 458.48,334.38 460.00,331.80 C461.52,329.22 462.50,326.83 463.60,324.50 C464.70,322.17 466.10,318.92 466.60,317.80" fill="none" stroke="#333" stroke-width="1.0" stroke-linecap="round" />
<path d="M367.10,395.20 C367.55,394.60 368.98,392.47 369.80,391.60 C370.62,390.73 371.08,390.40 372.00,390.00 C372.92,389.60 374.22,389.25 375.30,389.20 C376.38,389.15 377.42,389.38 378.50,389.70 C379.58,390.02 380.73,390.68 381.80,391.10 C382.87,391.52 384.08,392.30 384.90,392.20 C385.72,392.10 386.03,391.50 386.70,390.50 C387.37,389.50 388.08,387.83 388.90,386.20 C389.72,384.57 390.60,382.33 391.60,380.70 C392.60,379.07 393.43,378.03 394.90,376.40 C396.37,374.77 398.58,372.55 400.40,370.90 C402.22,369.25 403.70,368.27 405.80,366.50 C407.90,364.73 410.63,362.08 413.00,360.30 C415.37,358.52 417.17,357.42 420.00,355.80 C422.83,354.18 426.67,352.30 430.00,350.60 C433.33,348.90 436.82,347.48 440.00,345.60 C443.18,343.72 446.60,341.32 449.10,339.30 C451.60,337.28 453.18,335.47 455.00,333.50 C456.82,331.53 458.50,329.50 460.00,327.50 C461.50,325.50 462.63,323.82 464.00,321.50 C465.37,319.18 466.90,316.58 468.20,313.60 C469.50,310.62 471.20,305.27 471.80,303.60" fill="none" stroke="#3535c0" stroke-width="1.35" stroke-linecap="round" />
<line x1="370.10" y1="291.00" x2="519.80" y2="291.00" stroke="#000" stroke-width="1.3" />
<rect x="408.2" y="287" width="3.4" height="8" fill="#fafafa"/>
<line x1="407.60" y1="288.00" x2="407.60" y2="294.20" stroke="#000" stroke-width="1.3" />
<line x1="412.20" y1="288.00" x2="412.20" y2="294.20" stroke="#000" stroke-width="1.3" />
<polyline points="392.2,291 392.2,306.2 401.4,306.2 403,303.4 406.2,309 409.4,303.4 412.6,309 415.8,303.4 419,309 420.4,306.2 427.5,306.2 427.5,291" fill="none" stroke="#000" stroke-width="1.3" stroke-linejoin="miter"/>
<circle cx="392.2" cy="291" r="2.4" fill="#000"/>
<circle cx="437.4" cy="291" r="2.4" fill="#000"/>
<rect x="447" y="287" width="11" height="8" fill="#fafafa"/>
<line x1="446.00" y1="291.00" x2="448.40" y2="291.00" stroke="#000" stroke-width="1.1" />
<polyline points="448.4,288 451.2,291 448.4,294" fill="none" stroke="#000" stroke-width="1.1"/>
<polyline points="452.6,288 455.4,291 452.6,294" fill="none" stroke="#000" stroke-width="1.1"/>
<line x1="455.40" y1="291.00" x2="459.00" y2="291.00" stroke="#000" stroke-width="1.1" />
<polyline points="437.4,291 437.4,306.2 442.3,306.2 444.2,303.4 447.6,309 451,303.4 454.4,309 457.8,303.4 461.2,309 464.4,306.2 485.2,306.2 486.3,303.3 488.5,308.6 490.3,304.2 492.5,308.6 494.2,304.3 495,306.2 507.7,306.2 507.7,291" fill="none" stroke="#000" stroke-width="1.3" stroke-linejoin="miter"/>
<text x="409.8" y="286.6" font-size="5.6" text-anchor="middle" fill="#111" font-weight="bold">C1</text>
<text x="409.8" y="300.8" font-size="5.6" text-anchor="middle" fill="#111" font-weight="bold">R1</text>
<text x="455.4" y="286.8" font-size="5.6" text-anchor="middle" fill="#111" font-weight="bold">CPE1</text>
<text x="455.4" y="301.2" font-size="5.6" text-anchor="middle" fill="#111" font-weight="bold">R2</text>
<text x="489.7" y="301.2" font-size="5.6" text-anchor="middle" fill="#111" font-weight="bold">W1</text>
<text x="495.6" y="310" font-size="4" text-anchor="middle" fill="#111" font-weight="bold">s</text>
</svg>
</body></html>
